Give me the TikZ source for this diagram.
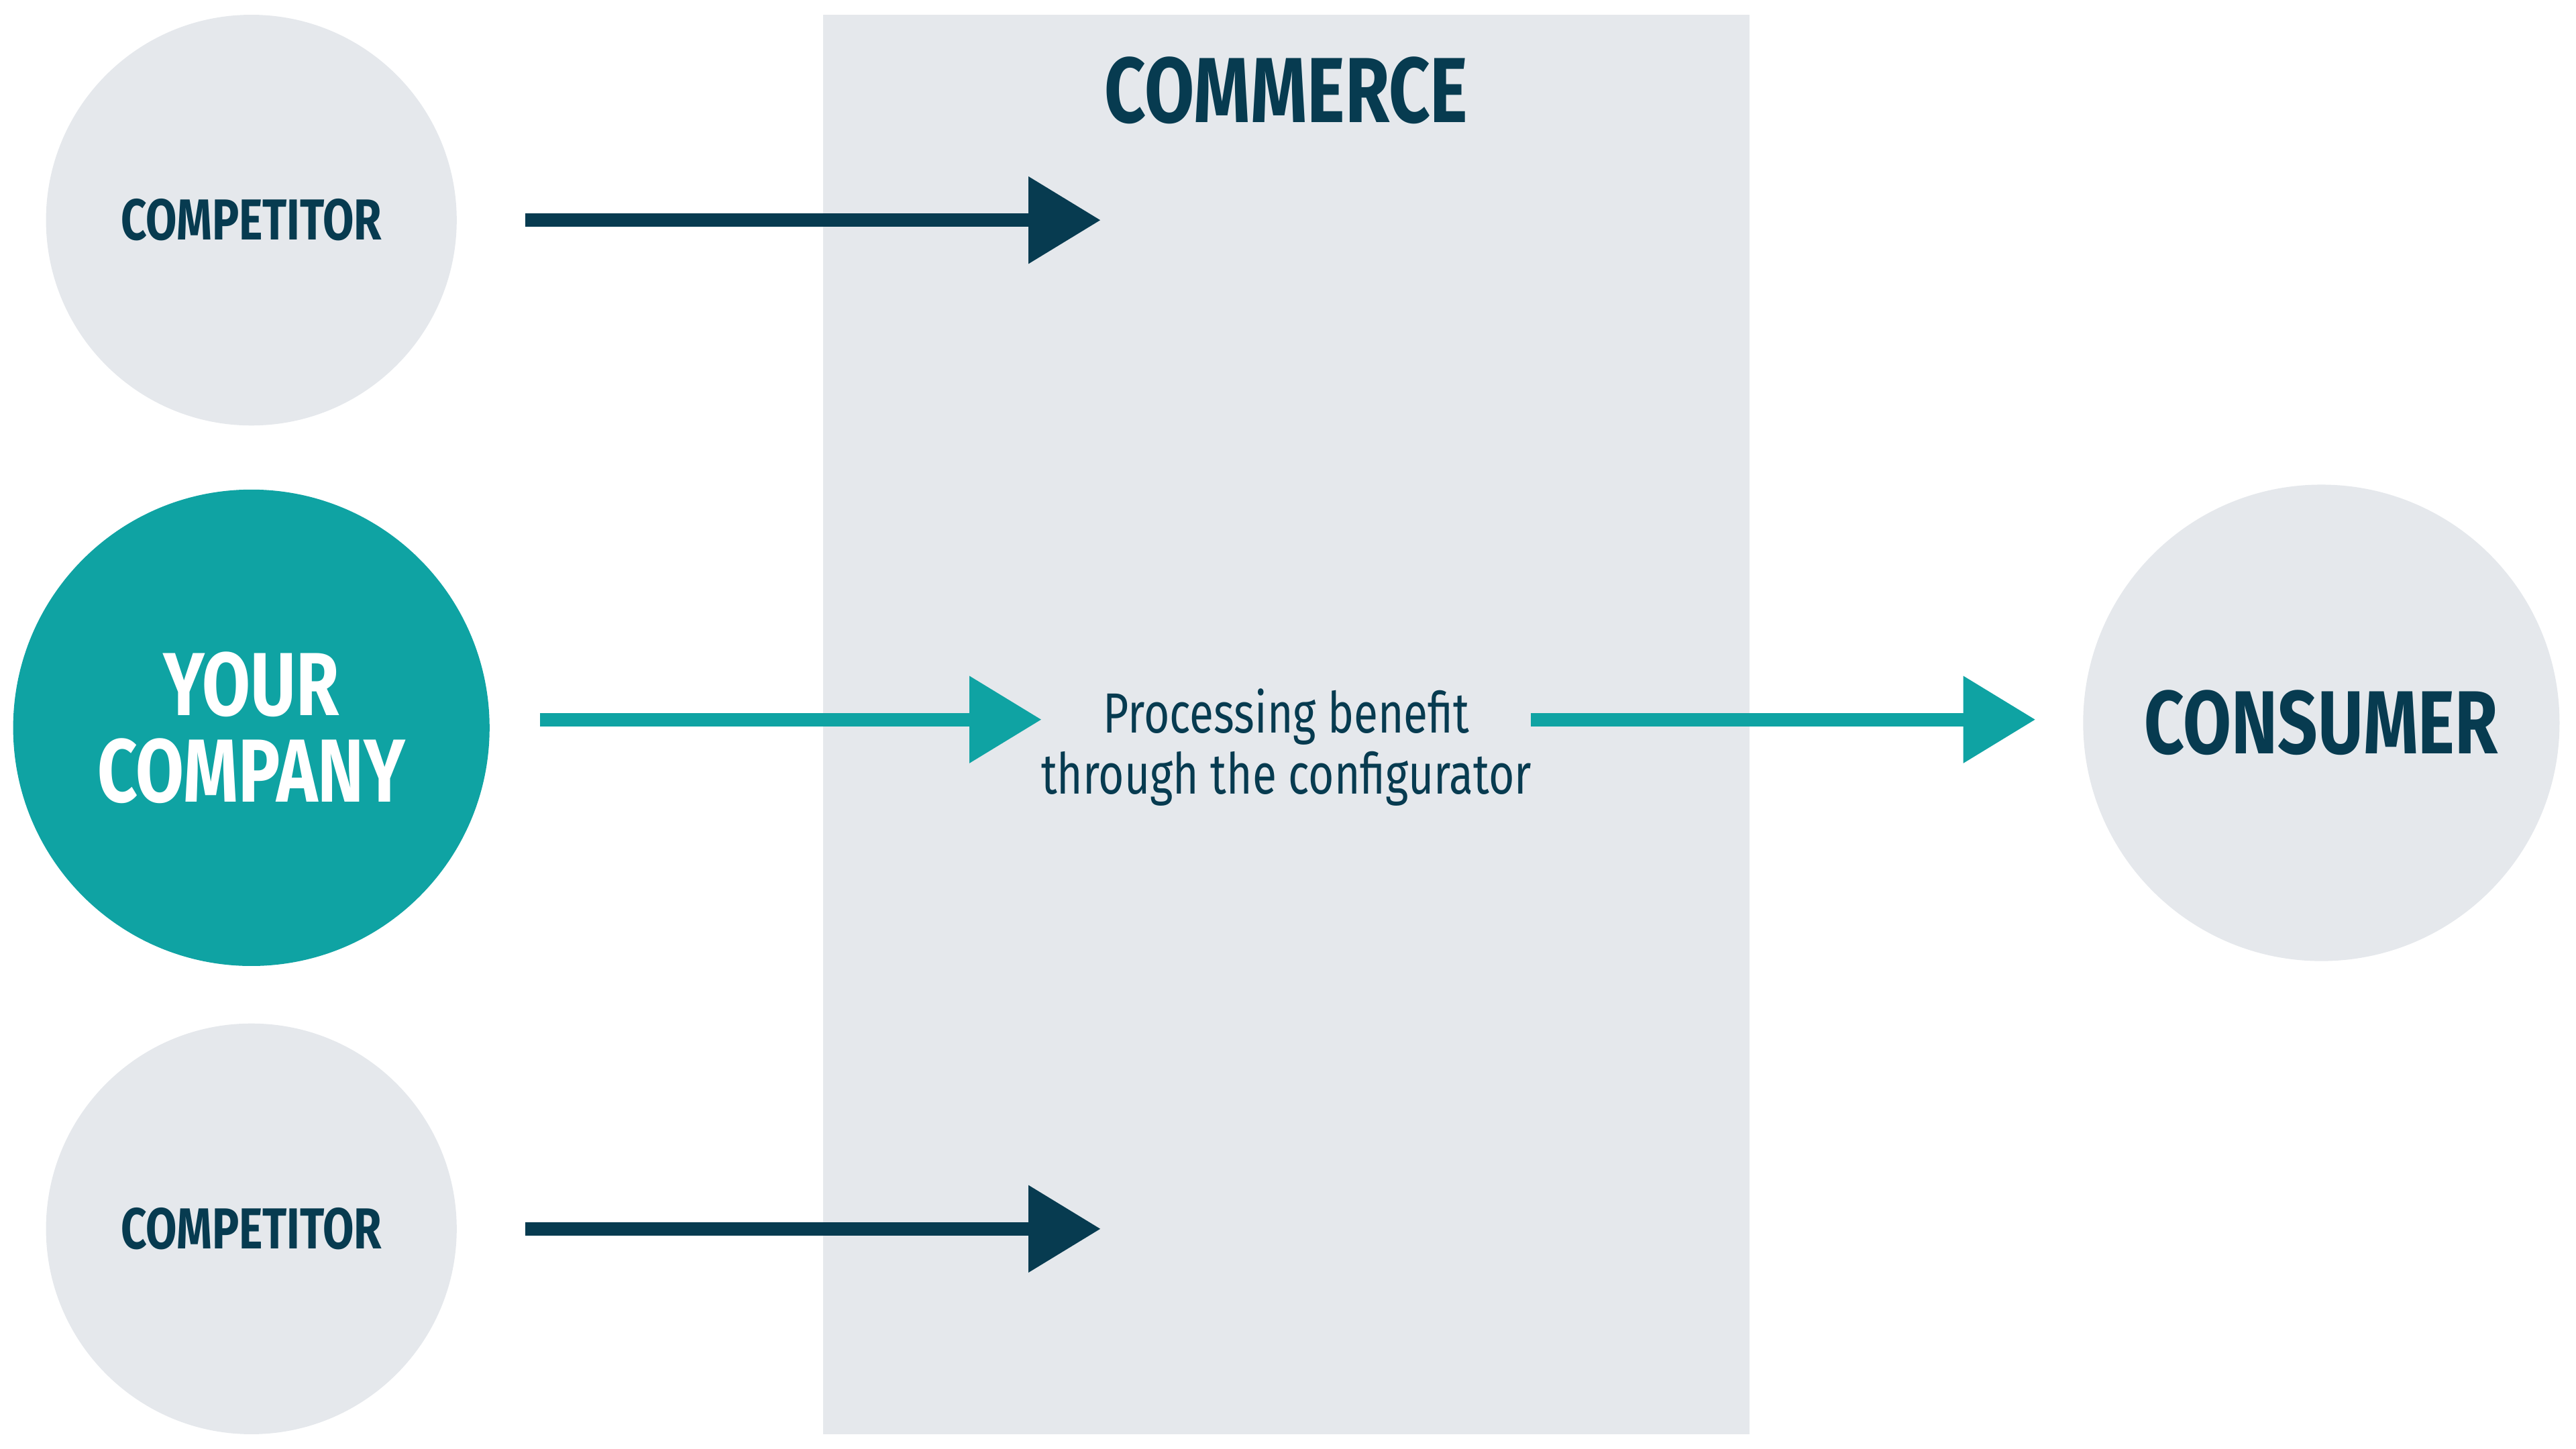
\documentclass[tikz,border=0pt]{standalone}
\usepackage{fontspec}
\setmainfont{Fira Sans}[FakeStretch=0.78]
\usetikzlibrary{arrows.meta}

\definecolor{navy}{HTML}{073B50}
\definecolor{teal}{HTML}{0FA3A3}
\definecolor{pale}{HTML}{E5E8EC}

\tikzset{
  party/.style={circle, fill=pale, text=navy, font=\bfseries, align=center, inner sep=0pt},
  flow/.style={line width=2.3pt, -{Triangle[length=12.5pt,width=14.5pt]}},
}

\begin{document}
\begin{tikzpicture}[x=0.01cm, y=-0.01cm]
	\useasboundingbox (0,0) rectangle (1568,882);
	
	% commerce column
	\fill[pale] (501,9) rectangle (1065,873);
	\node[text=navy, font=\fontsize{16}{19}\selectfont\bfseries] (commerce) at (783,55) {COMMERCE};
	
	% parties
	\node[party, minimum size=250*0.01cm, font=\fontsize{10}{12}\selectfont\bfseries] (comptop) at (153,134) {COMPETITOR};
	\node[party, minimum size=290*0.01cm, fill=teal, text=white, font=\fontsize{15.5}{15}\selectfont\bfseries] (yours) at (153,443) {YOUR\\COMPANY};
	\node[party, minimum size=250*0.01cm, font=\fontsize{10}{12}\selectfont\bfseries] (compbot) at (153,748) {COMPETITOR};
	\node[party, minimum size=290*0.01cm, font=\fontsize{15.5}{18}\selectfont\bfseries] (consumer) at (1413,440) {CONSUMER};
	
	\node[text=navy, align=center, font=\fontsize{9.8}{10.5}\selectfont] (benefit) at (783,455) {Processing benefit\\through the configurator};
	
	% arrow ends
	\coordinate (topend) at (670,134);
	\coordinate (botend) at (670,748);
	\coordinate (midin) at (634,438);
	\coordinate (midout) at (932,438);
	\coordinate (consend) at (1239,438);
	
	\draw[flow, navy, shorten <=41*0.01cm] (comptop.east) -- (topend);
	\draw[flow, navy, shorten <=41*0.01cm] (compbot.east) -- (botend);
	\draw[flow, teal] (yours.east |- midin) ++(30,0) -- (midin);
	\draw[flow, teal] (midout) -- (consend);
\end{tikzpicture}
\end{document}
